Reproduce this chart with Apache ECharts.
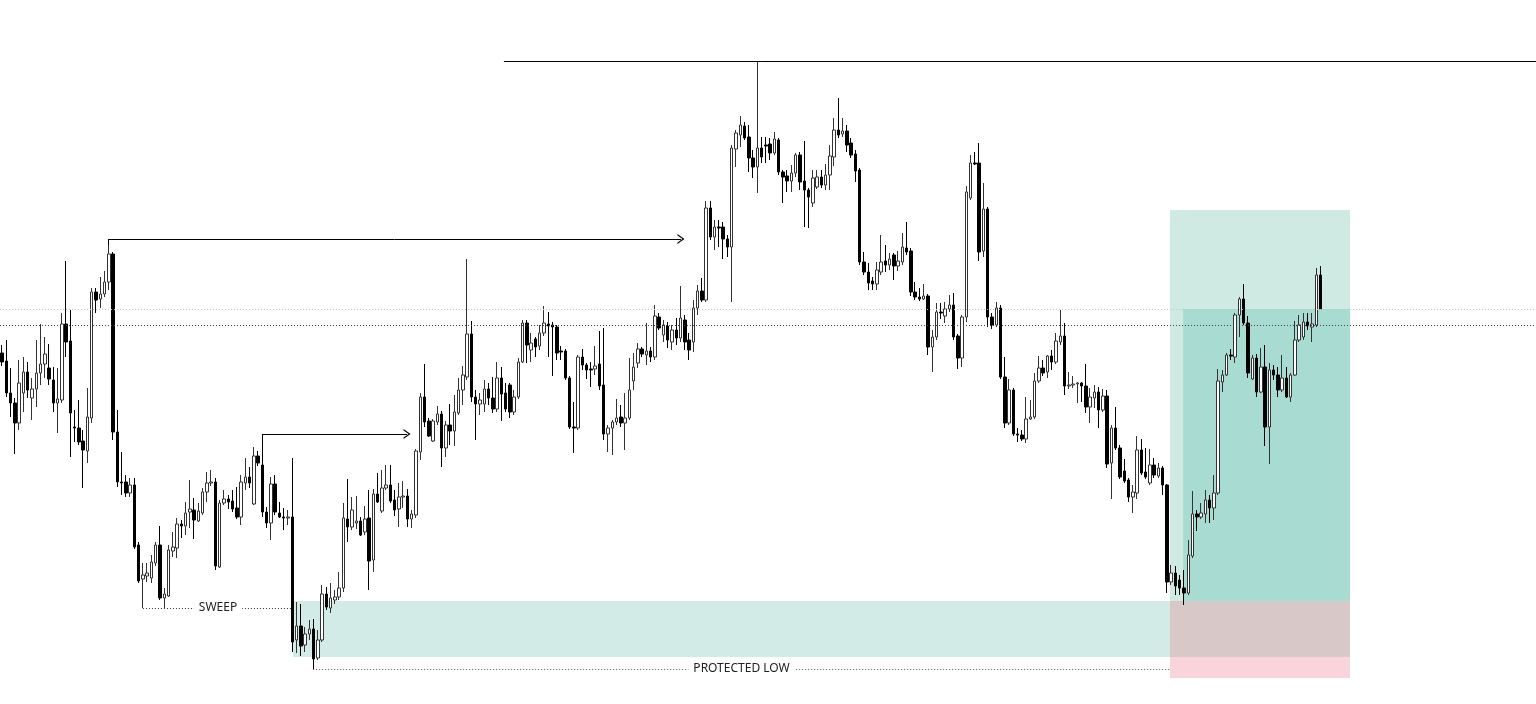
<!DOCTYPE html>
<html><head><meta charset="utf-8">
<script src="https://cdn.jsdelivr.net/npm/echarts@6/dist/echarts.min.js"></script>
<style>html,body{margin:0;padding:0;background:#fff;overflow:hidden}#c{width:1536px;height:704px}</style>
</head><body><div id="c"></div>
<script>
// ---- candle data (price units) ----
const opens=[351,343,311,301,281,311,332,306,315,331,340,336,324,301,304,380,363,277,276,263,253,286,412,405,410,422,450,272,222,222,211,219,159,125,128,126,141,159,106,108,153,156,180,178,192,194,183,191,212,221,222,137,201,205,203,196,187,221,227,200,248,239,192,181,220,191,187,186,187,64,78,59,70,75,46,64,110,96,104,107,116,185,177,181,183,172,186,144,210,193,216,219,204,195,207,208,185,189,252,307,283,263,282,290,256,279,273,291,314,327,370,307,300,300,315,306,295,326,311,319,292,307,342,381,354,365,358,371,380,379,377,353,353,326,277,276,347,339,335,335,340,319,270,276,282,287,281,286,323,341,355,349,353,347,387,369,378,362,374,366,384,364,362,396,413,404,496,467,477,477,465,457,555,569,578,567,546,537,556,559,560,551,564,532,528,523,531,549,523,514,501,517,527,519,529,547,574,570,573,561,550,534,442,432,423,420,432,443,439,449,438,442,456,453,412,407,405,408,357,367,392,388,395,399,368,346,387,506,541,541,453,495,387,379,396,327,281,314,270,269,265,285,287,323,336,332,348,342,362,368,318,319,320,321,318,297,306,312,294,308,241,276,256,233,224,207,211,254,232,221,239,228,236,219,122,131,124,116,111,148,190,187,190,204,196,211,322,329,349,347,389,405,381,325,346,312,337,277,334,329,314,326,307,329,364,367,382,377,379,429];
const closes=[342,311,301,281,321,332,314,315,331,340,350,325,301,305,380,362,291,276,262,254,287,412,404,410,422,450,272,222,221,211,219,157,123,129,131,142,159,106,110,154,157,180,178,191,195,184,193,212,221,222,138,201,205,202,195,187,222,227,221,248,241,192,181,220,192,187,186,187,62,78,58,70,75,45,64,110,97,106,107,116,186,177,194,183,169,185,143,210,202,216,219,203,194,207,208,185,190,253,307,282,268,283,290,256,279,273,292,314,329,370,307,300,304,315,306,295,326,310,295,292,307,342,381,359,361,357,371,381,378,377,351,352,326,277,276,347,339,334,334,338,318,270,276,282,286,281,286,314,337,355,350,353,347,388,376,379,364,374,366,386,362,354,396,413,404,496,467,477,476,465,457,556,571,579,566,546,537,556,547,558,551,565,532,527,523,531,549,522,514,507,526,527,519,529,548,574,569,573,559,549,533,442,432,421,420,434,442,439,445,438,443,457,452,412,407,405,408,357,367,392,391,395,399,367,346,387,512,541,540,452,495,387,379,396,327,281,314,270,269,265,285,287,323,336,331,348,342,363,368,318,319,320,321,318,297,307,312,294,308,240,276,256,227,223,207,212,254,231,227,239,229,236,219,122,131,118,116,111,149,190,187,191,204,196,211,323,329,349,348,389,405,381,331,346,312,337,277,334,329,314,326,307,329,364,379,382,378,380,429,395];
const lows=[338,307,287,250,274,292,306,284,297,319,326,319,292,271,301,347,247,262,259,216,241,281,391,396,407,414,264,217,209,207,207,155,121,96,122,121,138,104,96,107,147,146,166,169,176,165,182,189,202,218,134,136,199,195,192,185,179,214,216,199,238,187,176,164,189,186,174,179,52,51,48,52,64,35,44,62,94,91,100,104,112,162,174,175,168,169,114,132,201,191,214,201,188,177,196,177,176,186,244,277,267,262,279,237,247,259,258,289,299,324,302,264,289,292,299,291,292,283,292,286,289,305,341,341,342,347,354,368,347,328,344,344,324,275,251,274,334,325,317,329,314,264,252,249,279,277,254,284,314,336,347,339,342,344,374,362,356,354,359,362,354,344,352,389,402,402,464,454,457,445,447,402,537,557,564,532,526,511,541,541,544,549,529,501,512,512,527,514,477,476,497,515,516,514,514,538,566,567,552,546,522,439,429,414,414,414,429,432,434,424,433,439,449,408,404,403,404,349,332,364,385,381,392,364,335,337,382,504,539,443,447,377,375,377,325,276,279,268,262,263,261,284,285,321,328,326,334,340,359,309,315,316,301,302,291,281,296,276,292,236,205,254,225,221,202,191,205,229,225,219,226,226,209,111,119,109,109,99,109,146,173,185,181,181,184,209,312,328,344,341,367,379,326,324,307,311,258,240,324,307,312,306,302,328,362,364,374,362,377,394];
const highs=[359,364,336,306,344,347,342,326,364,380,367,360,337,336,391,443,394,294,304,274,316,416,416,427,433,459,452,294,252,229,226,226,162,141,141,149,162,178,116,159,172,186,184,202,224,206,201,216,232,234,226,204,214,209,214,217,229,246,237,257,253,257,197,227,229,202,196,194,246,102,100,77,84,85,74,119,117,121,114,132,201,225,207,208,187,198,214,215,231,234,239,239,214,221,223,215,194,255,311,340,286,285,298,293,283,300,309,326,338,445,383,314,311,324,321,327,342,337,321,321,314,346,384,384,371,367,379,398,392,382,379,358,355,328,302,349,355,341,342,358,373,376,279,284,305,299,311,346,351,361,357,381,357,399,391,384,382,379,386,418,389,371,404,419,426,503,503,484,484,482,469,559,574,588,582,579,554,642,567,567,566,572,566,534,534,539,551,552,563,516,534,534,534,540,559,586,606,586,579,566,554,536,452,441,427,442,469,459,451,451,453,471,482,456,422,416,420,410,374,401,401,402,409,411,370,389,518,549,552,561,521,497,391,402,399,347,325,316,276,274,307,304,331,348,344,349,354,371,394,381,332,328,322,322,340,316,319,317,315,314,279,297,259,245,226,219,268,265,256,255,246,241,238,220,139,138,129,134,164,213,194,201,214,209,229,335,334,351,355,391,407,420,388,349,350,356,359,341,339,337,349,337,331,383,389,391,391,391,436,438];

// ---- axis slots (bars) ----
const barSlots = 360;
const categories = Array.from({length: barSlots}, (_, i) => 'Bar ' + (i + 1));

// ---- annotation levels (price) and spans (bar index) ----
const swingHighLevel = 643;
const swingHighStart = 117.6;
const bosUpper = {from: 24.8, to: 159.1, base: 459, level: 465};
const bosLower = {from: 60.9, to: 94.9, base: 257, level: 270};
const dottedLevels = [395, 379];
const demandZone = {from: 68.2, to: 273.7, top: 103, bottom: 47};
const targetZone = {from: 273.7, to: 315.9, top: 494, bottom: 103};
const entryZone = {from: 276.8, to: 315.9, top: 395, bottom: 103};
const stopZone = {from: 273.7, to: 315.9, top: 103, mid: 47, bottom: 26};
const sweep = {from: 33, to: 68.2, level: 96, text: 'SWEEP'};
const protectedLow = {from: 72.9, to: 273.7, level: 35, text: 'PROTECTED LOW'};

const candles = opens.map((o, i) => [o, closes[i], lows[i], highs[i]]);
const chevron = 'path://M5,0 L10,10 L8.6,10 L5,2.8 L1.4,10 L0,10 Z';
const textLabel = (t) => ({show: true, position: 'middle', distance: 0, verticalAlign: 'middle',
  formatter: t, color: '#222', fontSize: 12, fontFamily: 'Noto Sans',
  backgroundColor: '#fff', padding: [3, 5, 0, 5]});

const chart = echarts.init(document.getElementById('c'), null, {renderer: 'canvas'});
chart.setOption({
  animation: false,
  backgroundColor: '#fff',
  grid: {left: 0, right: 0, top: 0, bottom: 0},
  xAxis: [
    {type: 'category', data: categories, show: false, boundaryGap: true},
    {type: 'value', min: -0.5, max: barSlots - 0.5, show: false}
  ],
  yAxis: {type: 'value', min: 0, max: 704, show: false, splitLine: {show: false}},
  series: [
    {
      type: 'candlestick', data: candles, barWidth: 3, z: 3,
      itemStyle: {color: '#ffffff', color0: '#000000', borderColor: '#333333', borderColor0: '#000000', borderWidth: 1},
      emphasis: {disabled: true}
    },
    {
      type: 'line', xAxisIndex: 1, data: [[-10, -10]], symbol: 'none', lineStyle: {opacity: 0}, silent: true,
      markArea: {
        silent: true,
        data: [
          [{coord: [demandZone.from, demandZone.top], itemStyle: {color: '#d2ebe6'}}, {coord: [demandZone.to, demandZone.bottom]}],
          [{coord: [targetZone.from, targetZone.top], itemStyle: {color: '#cfe9e3'}}, {coord: [targetZone.to, targetZone.bottom]}],
          [{coord: [entryZone.from, entryZone.top], itemStyle: {color: '#a8dbd1'}}, {coord: [entryZone.to, entryZone.bottom]}],
          [{coord: [stopZone.from, stopZone.top], itemStyle: {color: '#d8c9c8'}}, {coord: [stopZone.to, stopZone.mid]}],
          [{coord: [stopZone.from, stopZone.mid], itemStyle: {color: '#f9d5db'}}, {coord: [stopZone.to, stopZone.bottom]}]
        ]
      },
      markLine: {
        silent: true, symbol: ['none', 'none'], label: {show: false}, emphasis: {disabled: true},
        data: [
          [{coord: [swingHighStart, swingHighLevel], lineStyle: {color: '#000', width: 1, type: 'solid'}}, {coord: [barSlots - 0.5, swingHighLevel]}],
          [{coord: [bosUpper.from, bosUpper.base], lineStyle: {color: '#000', width: 1, type: 'solid'}}, {coord: [bosUpper.from, bosUpper.level]}],
          [{coord: [bosUpper.from, bosUpper.level], lineStyle: {color: '#000', width: 1, type: 'solid'}}, {coord: [bosUpper.to, bosUpper.level], symbol: chevron, symbolSize: [10, 7]}],
          [{coord: [bosLower.from, bosLower.base], lineStyle: {color: '#000', width: 1, type: 'solid'}}, {coord: [bosLower.from, bosLower.level]}],
          [{coord: [bosLower.from, bosLower.level], lineStyle: {color: '#000', width: 1, type: 'solid'}}, {coord: [bosLower.to, bosLower.level], symbol: chevron, symbolSize: [10, 7]}],
          [{coord: [-0.5, dottedLevels[0]], lineStyle: {color: '#c4c4c4', width: 1, type: [1, 2]}}, {coord: [barSlots - 0.5, dottedLevels[0]]}],
          [{coord: [-0.5, dottedLevels[1]], lineStyle: {color: '#444', width: 1, type: [1, 2]}}, {coord: [barSlots - 0.5, dottedLevels[1]]}],
          [{coord: [sweep.from, sweep.level], lineStyle: {color: '#333', width: 1, type: [1, 2]}, label: textLabel(sweep.text)}, {coord: [sweep.to, sweep.level]}],
          [{coord: [protectedLow.from, protectedLow.level], lineStyle: {color: '#555', width: 1, type: [1, 2]}, label: textLabel(protectedLow.text)}, {coord: [protectedLow.to, protectedLow.level]}]
        ]
      }
    }
  ]
});
</script>
</body></html>
